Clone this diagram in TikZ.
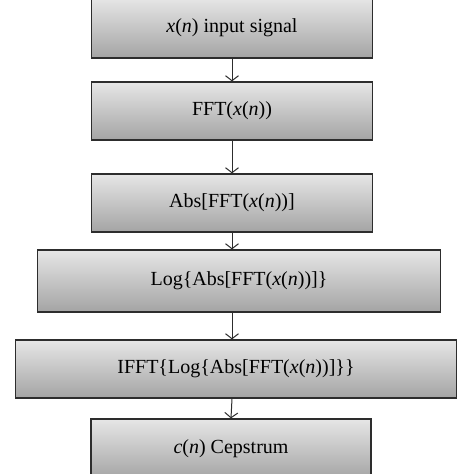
\documentclass[tikz,border=0pt]{standalone}
\usepackage{fontspec}
\setmainfont{Liberation Serif}
\usepackage{xcolor}
\usepackage{tikz}
\usetikzlibrary{arrows.meta}

\definecolor{boxtop}{RGB}{230,230,230}
\definecolor{boxbottom}{RGB}{164,164,164}
\definecolor{boxedge}{RGB}{45,45,45}

\begin{document}
\begin{tikzpicture}[
    block/.style={rectangle, draw=boxedge, line width=1.3pt, top color=boxtop, bottom color=boxbottom, minimum width=281pt, minimum height=58pt, inner sep=0pt, font=\fontsize{20}{24}\selectfont},
    line/.style={draw=boxedge, line width=1pt, -{Straight Barb[length=5pt,width=13pt]}}
]
\useasboundingbox (0pt,0pt) rectangle (474pt,-474pt);

\node [block, minimum height=60pt] (input) at (232pt,-28pt) {\textit{x}(\textit{n}) input signal};
\node [block, below of=input, node distance=83pt] (fft) {FFT(\textit{x}(\textit{n}))};
\node [block, below of=fft, node distance=92pt] (abs) {Abs[FFT(\textit{x}(\textit{n}))]};
\node [block, minimum width=403pt, minimum height=62pt, below of=abs, node distance=78pt, xshift=7pt] (log) {Log\{Abs[FFT(\textit{x}(\textit{n}))]\}};
\node [block, minimum width=441pt, below of=log, node distance=88pt, xshift=-3pt] (ifft) {IFFT\{Log\{Abs[FFT(\textit{x}(\textit{n}))]\}\}};
\node [block, minimum width=280pt, minimum height=60pt, below of=ifft, node distance=80pt, xshift=-5pt] (cepstrum) {\textit{c}(\textit{n}) Cepstrum};

\path [line] (input.south) -- (fft.north);
\path [line] (fft.south) -- (abs.north);
\path [line] (abs.south) -- (abs.south |- log.north);
\path [line] (abs.south |- log.south) -- (abs.south |- ifft.north);
\path [line] (abs.south |- ifft.south) -- (cepstrum.north);

\end{tikzpicture}
\end{document}
